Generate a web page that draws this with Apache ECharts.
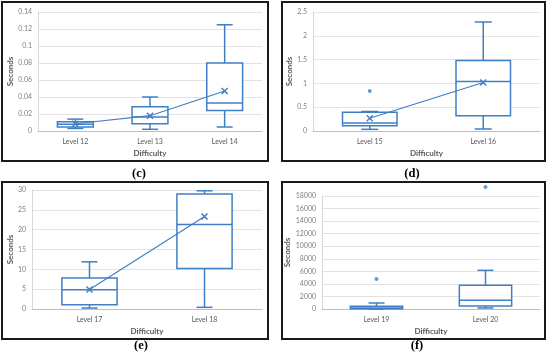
<!DOCTYPE html>
<html><head><meta charset="utf-8">
<script src="https://cdn.jsdelivr.net/npm/echarts@6/dist/echarts.min.js"></script>
<style>html,body{margin:0;padding:0;background:#fff}#c{width:550px;height:361px}</style>
</head><body><div id="c"></div>
<script>
// Panel (c)
const catsC = ['Level 12', 'Level 13', 'Level 14'];
const boxC = [[0.003, 0.0047, 0.0079, 0.011, 0.014], [0.002, 0.0086, 0.0165, 0.0285, 0.040], [0.0047, 0.024, 0.033, 0.080, 0.125]];
const meanC = [0.0085, 0.018, 0.047];
const outC = [];
// Panel (d)
const catsD = ['Level 15', 'Level 16'];
const boxD = [[0.035, 0.112, 0.169, 0.393, 0.41], [0.042, 0.323, 1.04, 1.48, 2.29]];
const meanD = [0.267, 1.02];
const outD = [[0, 0.84]];
// Panel (e)
const catsE = ['Level 17', 'Level 18'];
const boxE = [[0.25, 1.1, 4.87, 7.8, 11.9], [0.42, 10.2, 21.3, 29.0, 29.8]];
const meanE = [4.9, 23.3];
const outE = [];
// Panel (f)
const catsF = ['Level 19', 'Level 20'];
const boxF = [[0, 50, 150, 430, 955], [160, 480, 1380, 3770, 6160]];
const meanF = [];
const outF = [[0, 4780], [1, 19430]];

const BLUE = '#3f7fc5';
const FONT = 'Lato, "Open Sans", sans-serif';

const panels = [
  {cats: catsC, box: boxC, mean: meanC, out: outC, min: 0, max: 0.14, interval: 0.02,
   grid: {left: 38, right: 288, top: 12, bottom: 230}, nameGapY: 24, cap: 16},
  {cats: catsD, box: boxD, mean: meanD, out: outD, min: 0, max: 2.5, interval: 0.5,
   grid: {left: 313, right: 10, top: 12, bottom: 230}, nameGapY: 20, cap: 17},
  {cats: catsE, box: boxE, mean: meanE, out: outE, min: 0, max: 30, interval: 5,
   grid: {left: 32, right: 288, top: 190, bottom: 52}, nameGapY: 18, cap: 16},
  {cats: catsF, box: boxF, mean: meanF, out: outF, min: 0, max: 18000, interval: 2000,
   grid: {left: 322, right: 10, top: 196, bottom: 52}, nameGapY: 28, cap: 16}
];

const grids = [], xAxes = [], yAxes = [], series = [];
panels.forEach((p, i) => {
  grids.push(Object.assign({containLabel: false}, p.grid));
  xAxes.push({
    type: 'category', gridIndex: i, data: p.cats,
    name: 'Difficulty', nameLocation: 'middle', nameGap: 18,
    nameTextStyle: {fontFamily: FONT, fontSize: 8, fontWeight: 'bold', color: '#595959'},
    axisLine: {lineStyle: {color: '#bfbfbf', width: 1}},
    axisTick: {show: false},
    axisLabel: {fontFamily: FONT, fontSize: 7, color: '#595959', margin: 7}
  });
  yAxes.push({
    type: 'value', gridIndex: i, min: p.min, max: p.max, interval: p.interval,
    name: 'Seconds', nameLocation: 'middle', nameGap: p.nameGapY, nameRotate: 90,
    nameTextStyle: {fontFamily: FONT, fontSize: 8, fontWeight: 'bold', color: '#595959'},
    axisLine: {show: true, lineStyle: {color: '#d9d9d9', width: 1}},
    axisTick: {show: false},
    splitLine: {lineStyle: {color: '#e3e3e3', width: 1}},
    axisLabel: {fontFamily: FONT, fontSize: 7, color: '#7f7f7f', margin: 6,
      formatter: v => String(+v.toFixed(4))}
  });
  const capW = p.cap;
  series.push({
    type: 'custom', xAxisIndex: i, yAxisIndex: i, clip: false,
    data: p.box.map((b, k) => [k].concat(b)),
    encode: {x: 0, y: [1, 2, 3, 4, 5]},
    renderItem: function (params, api) {
      const x = api.value(0);
      const pMin = api.coord([x, api.value(1)]);
      const pQ1 = api.coord([x, api.value(2)]);
      const pMed = api.coord([x, api.value(3)]);
      const pQ3 = api.coord([x, api.value(4)]);
      const pMax = api.coord([x, api.value(5)]);
      const bw = api.size([1, 0])[0] * 0.48;
      const cx = pMed[0];
      const st = {stroke: BLUE, lineWidth: 1.5, fill: null};
      return {type: 'group', children: [
        {type: 'line', shape: {x1: cx, y1: pMax[1], x2: cx, y2: pQ3[1]}, style: st},
        {type: 'line', shape: {x1: cx, y1: pQ1[1], x2: cx, y2: pMin[1]}, style: st},
        {type: 'line', shape: {x1: cx - capW / 2, y1: pMax[1], x2: cx + capW / 2, y2: pMax[1]}, style: st},
        {type: 'line', shape: {x1: cx - capW / 2, y1: pMin[1], x2: cx + capW / 2, y2: pMin[1]}, style: st},
        {type: 'rect', shape: {x: cx - bw / 2, y: pQ3[1], width: bw, height: pQ1[1] - pQ3[1]},
         style: {stroke: BLUE, lineWidth: 1.5, fill: '#fff'}},
        {type: 'line', shape: {x1: cx - bw / 2, y1: pMed[1], x2: cx + bw / 2, y2: pMed[1]}, style: st}
      ]};
    },
    z: 2
  });
  if (p.mean.length) {
    series.push({
      type: 'line', xAxisIndex: i, yAxisIndex: i, data: p.mean,
      symbol: 'path://M0,0L10,10M10,0L0,10', symbolSize: 6,
      itemStyle: {color: 'rgba(0,0,0,0)', borderColor: BLUE, borderWidth: 1.5},
      lineStyle: {color: BLUE, width: 1.2}, z: 3, animation: false
    });
  }
  if (p.out.length) {
    series.push({
      type: 'scatter', xAxisIndex: i, yAxisIndex: i, data: p.out, clip: false,
      symbol: 'circle', symbolSize: 4, itemStyle: {color: BLUE}, z: 3
    });
  }
});

const frames = [[2, 2, 266, 159], [282, 2, 263, 159], [2, 182, 266, 157], [282, 182, 263, 157]];
const captions = [['(c)', 139, 174], ['(d)', 412, 174], ['(e)', 141, 346], ['(f)', 417, 346]];
const graphic = frames.map(f => ({type: 'rect', shape: {x: f[0], y: f[1], width: f[2], height: f[3]},
  style: {fill: null, stroke: '#1a1a1a', lineWidth: 2}, z: 10, silent: true}))
  .concat(captions.map(c => ({type: 'text', x: c[1], y: c[2],
    style: {text: c[0], font: 'bold 12.5px "Liberation Serif", serif', fill: '#000', textAlign: 'center', textVerticalAlign: 'middle'}, z: 10})));

const chart = echarts.init(document.getElementById('c'), null, {renderer: 'canvas'});
chart.setOption({animation: false, grid: grids, xAxis: xAxes, yAxis: yAxes, series: series, graphic: graphic});
</script></body></html>
